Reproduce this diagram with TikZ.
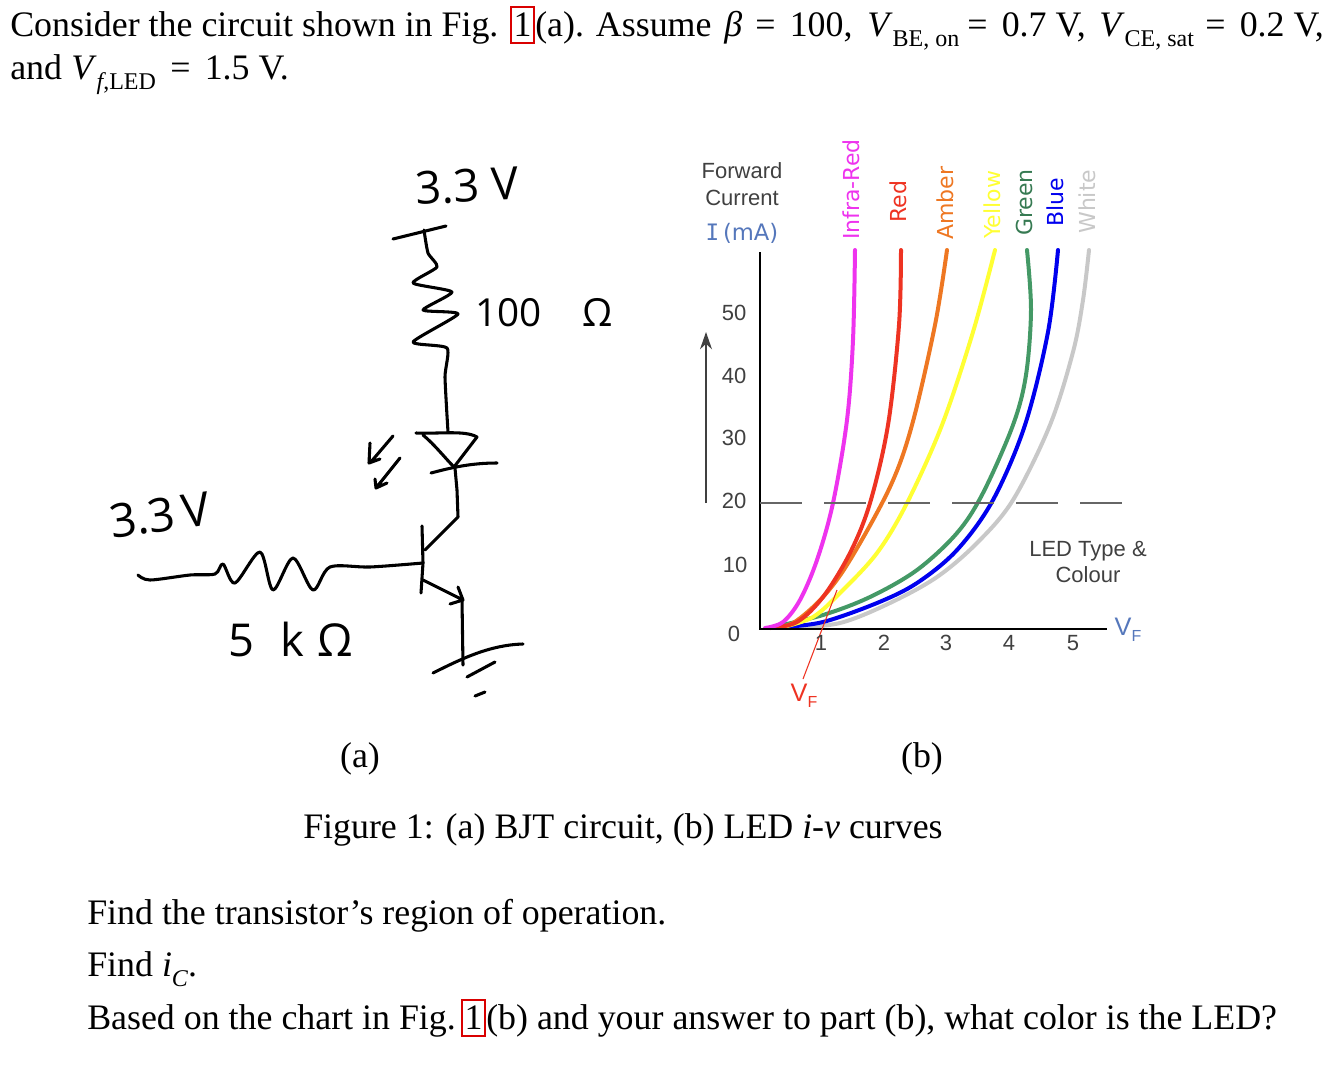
\documentclass[tikz,border=0pt]{standalone}
\usepackage{fontspec}
\usetikzlibrary{arrows.meta}
\setmainfont{Liberation Serif}
\setsansfont{Liberation Sans}
\newfontfamily\handfont{Open Sans}
\newfontfamily\vergfont{DejaVu Sans}
\newfontfamily\vergmono{DejaVu Sans Mono}
\newcommand{\lowsub}[1]{\raisebox{-.28em}{\fontsize{18}{18}\selectfont #1}}
\newcommand{\chartsub}[1]{\raisebox{-.22em}{\fontsize{12}{12}\selectfont #1}}
\definecolor{irmagenta}{HTML}{EE33EE}
\definecolor{ledred}{HTML}{EE3322}
\definecolor{ledamber}{HTML}{EE7722}
\definecolor{ledyellow}{HTML}{FFFF33}
\definecolor{ledgreen}{HTML}{449966}
\definecolor{ledblue}{HTML}{0000EE}
\definecolor{ledwhite}{HTML}{C8C8C8}
\definecolor{axisblue}{HTML}{5577BB}
\tikzset{
    prose/.style={anchor=base west,inner sep=0pt,font=\fontsize{26.9}{30}\selectfont},
    reflink/.style={prose,anchor=base,draw=red!85!black,line width=1.3pt,minimum width=17.5pt,minimum height=27pt,text depth=5.5pt,text height=21.5pt},
    wire/.style={line width=2.3pt,line cap=round,line join=round},
    hand/.style={inner sep=0pt,font=\handfont\fontsize{34}{36}\selectfont},
    axisline/.style={line width=1.4pt},
    curve/.style={line width=3pt,line cap=round,smooth,tension=.55},
    chartlabel/.style={inner sep=0pt,align=center,text=black!75,font=\sffamily\fontsize{16.5}{20}\selectfont},
    colourlabel/.style={inner sep=0pt,rotate=90,anchor=west,font=\vergfont\fontsize{16.5}{18}\selectfont},
    subscripted/.style={inner sep=0pt,font=\sffamily\fontsize{19}{20}\selectfont},
}
\begin{document}
\begin{tikzpicture}[x=.75pt,y=-.75pt]
    \useasboundingbox (0,0) rectangle (1322,1068);
    % question text
    \node[prose] (introa) at (10,36) {Consider the circuit shown in Fig.};
    \node[reflink] (refa) at (522.5,36) {1};
    \node[prose] (introb) at (535,36) {(a). Assume};
    \node[prose] (betaval) at (724,36) {\textit{β}};
    \node[prose] (betanum) at (755,36) {=\hspace{.4em}100,};
    \node[prose] (vbe) at (867,36) {\textit{V}\lowsub{BE, on}};
    \node[prose] (vbenum) at (967,36) {=\hspace{.4em}0.7 V,};
    \node[prose] (vce) at (1099,36) {\textit{V}\lowsub{CE, sat}};
    \node[prose] (vcenum) at (1205,36) {=\hspace{.4em}0.2 V,};
    \node[prose] (intand) at (10,79) {and};
    \node[prose] (vled) at (71,79) {\textit{V}\lowsub{\textit{f},LED}};
    \node[prose] (vlednum) at (170,79) {=\hspace{.4em}1.5 V.};

    % hand drawn circuit
    \draw[wire] (393,239)--(446,226);
    \draw[wire,smooth,tension=.35] plot coordinates {(424,230) (428,253) (437,267) (413,283) (452,292) (423,310) (458,314) (413,342) (447,348) (445,377) (448,432)};
    \draw[wire] (416,433)..controls (440,434) and (465,430)..(477,437)--(454,467)..controls (445,458) and (435,445)..(423,435);
    \draw[wire] (431,473)..controls (450,468) and (470,463)..(497,463);
    \draw[wire] (455,468)--(457,490)--(458,517)--(425,550);
    \draw[wire] (393,436)--(370,463) (370,443)--(369,463)--(380,459);
    \draw[wire] (400,458)--(376,488) (375,479)--(376,488)--(387,483);
    \draw[wire] (422,526)--(423,563)--(421,593);
    \draw[wire,smooth,tension=.5] plot coordinates {(138,575) (150,580) (190,575) (215,574) (223,564) (235,583) (260,552) (273,590) (293,558) (313,590) (330,567) (370,567) (423,563)};
    \draw[wire] (423,580)--(463,600) (458,587)--(463,600)--(450,604);
    \draw[wire] (462,600)--(463,665);
    \draw[wire] (433,673)..controls (463,658) and (490,645)..(523,644);
    \draw[wire] (467,677)--(495,662);
    \draw[wire] (475,696)--(485,692);
    \node[hand,rotate=3] (vtop) at (467,186) {3.3 V};
    \node[hand,font=\handfont\fontsize{29}{36}\selectfont] (rtop) at (544,313) {100\hspace{1.05em}Ω};
    \node[hand,rotate=8,font=\handfont\fontsize{35}{36}\selectfont] (vleft) at (160,515) {3.3\,V};
    \node[hand] (rleft) at (291,639) {5\hspace{.3em} k\hspace{.3em}Ω};

    % LED chart
    \draw[black!75,line width=1.3pt,-{Stealth[length=13pt,width=9pt]}] (706,503)--(706,332);
    \draw[black,axisline] (760,252)--(760,629);
    \draw[curve,draw=ledwhite] plot coordinates {(1089,250) (1083,300) (1073,352) (1050,425) (1013,500) (977,543) (937,577) (890,603) (840,623) (790,628)};
    \draw[curve,draw=ledgreen] plot coordinates {(1027,250) (1031,310) (1026,375) (1013,425) (983,493) (957,533) (917,570) (870,597) (823,615) (773,627)};
    \draw[curve,draw=ledblue] plot coordinates {(1058,250) (1048,332) (1025,425) (993,500) (957,550) (917,583) (877,603) (823,622) (783,627)};
    \draw[curve,draw=ledyellow] plot coordinates {(995,250) (973,332) (942,425) (907,503) (877,553) (840,593) (813,617) (783,627)};
    \draw[curve,draw=ledamber] plot coordinates {(947,250) (935,325) (912,425) (890,487) (850,560) (823,597) (793,623) (770,628)};
    \draw[curve,draw=ledred] plot coordinates {(901,250) (899,325) (888,425) (870,503) (850,553) (823,597) (797,622) (770,628)};
    \draw[curve,draw=irmagenta] plot coordinates {(855,250) (853,340) (847,420) (833,503) (817,560) (800,600) (783,622) (765,628)};
    \draw[black,axisline] (759,629)--(1107,629);
    \draw[black!60,line width=1.3pt,dash pattern=on 31.5pt off 16.5pt] (760,503)--(1122,503);
    \draw[ledred,line width=.8pt] (803,679)--(837,590);
    \node[chartlabel] (fwd) at (742,184) {Forward\\Current};
    \node[chartlabel,text=axisblue] (ima) at (742,233) {{\vergmono\fontsize{17}{20}\selectfont I}\,{\vergfont\fontsize{17}{20}\selectfont (mA)}};
    \node[colourlabel,text=irmagenta] (lblir) at (851,240) {Infra-Red};
    \node[colourlabel,text=ledred] (lblred) at (898,223) {Red};
    \node[colourlabel,text=ledamber] (lblamber) at (945,240) {Amber};
    \node[colourlabel,text=ledyellow] (lblyellow) at (992,239) {Yellow};
    \node[colourlabel,text=ledgreen!80!black] (lblgreen) at (1024,236) {Green};
    \node[colourlabel,text=ledblue] (lblblue) at (1055,227) {Blue};
    \node[colourlabel,text=ledwhite] (lblwhite) at (1087,234) {White};
    \node[chartlabel] (ty50) at (734,313) {50};
    \node[chartlabel] (ty40) at (734,376) {40};
    \node[chartlabel] (ty30) at (734,438) {30};
    \node[chartlabel] (ty20) at (734,501) {20};
    \node[chartlabel] (ty10) at (735,565) {10};
    \node[chartlabel] (ty0) at (734,634) {0};
    \node[chartlabel] (tx1) at (821,643) {1};
    \node[chartlabel] (tx2) at (884,643) {2};
    \node[chartlabel] (tx3) at (946,643) {3};
    \node[chartlabel] (tx4) at (1009,643) {4};
    \node[chartlabel] (tx5) at (1073,643) {5};
    \node[chartlabel] (ledtype) at (1088,562) {LED Type \&\\Colour};
    \node[subscripted,text=axisblue] (vfblue) at (1128,630) {V\chartsub{F}};
    \node[subscripted,text=ledred] (vfred) at (804,696) {V\chartsub{F}};

    % captions and questions
    \node[prose,anchor=base] (capa) at (360,767) {(a)};
    \node[prose,anchor=base] (capb) at (922,767) {(b)};
    \node[prose] (figcap) at (303,838) {Figure 1: (a) BJT circuit, (b) LED \textit{i}-\textit{v} curves};
    \node[prose] (qone) at (87,924) {Find the transistor’s region of operation.};
    \node[prose] (qtwo) at (87,976) {Find \textit{i}\lowsub{\textit{C}}.};
    \node[prose] (qthree) at (87,1029) {Based on the chart in Fig.};
    \node[reflink] (refb) at (473.5,1029) {1};
    \node[prose] (qfour) at (486,1029) {(b) and your answer to part (b), what color is the LED?};
\end{tikzpicture}
\end{document}
